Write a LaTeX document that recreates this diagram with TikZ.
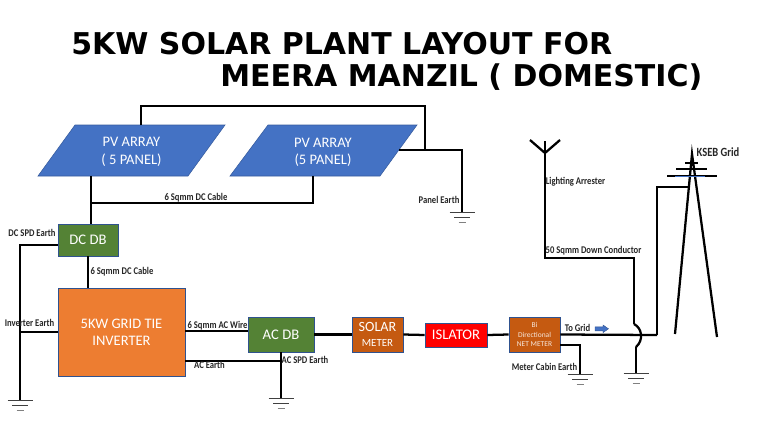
\documentclass[tikz,border=0pt]{standalone}
\usepackage{fontspec}
\setmainfont{Carlito}
\newfontfamily\titlefont{DejaVu Sans}
\newfontfamily\labelfont[FakeStretch=0.84]{Carlito}
\usetikzlibrary{calc}
\definecolor{pvblue}{HTML}{4472C4}
\definecolor{boxedge}{HTML}{2F528F}
\definecolor{dbgreen}{HTML}{548235}
\definecolor{invorange}{HTML}{ED7D31}
\definecolor{meterbrown}{HTML}{C55A11}
\tikzset{
  wire/.style={line width=1.7pt,black},
  thinwire/.style={line width=1.1pt,black},
  unit/.style={draw=boxedge,line width=0.6pt,text=white,align=center,inner sep=0pt},
  wirelabel/.style={font=\labelfont\bfseries\fontsize{7.7}{8}\selectfont,inner sep=0pt,text=black!85},
}
\newcommand{\earthsym}[1]{
  \draw[line width=0.6pt,black!75] ($(#1)+(-12.5,0)$) -- ($(#1)+(12.5,0)$);
  \draw[line width=0.7pt,black!75] ($(#1)+(-8,5)$) -- ($(#1)+(8,5)$);
  \draw[line width=0.7pt,gray] ($(#1)+(-3.5,10)$) -- ($(#1)+(3.5,10)$);
}
\begin{document}
\begin{tikzpicture}[x=0.75pt,y=-0.75pt]
  \useasboundingbox (0,0) rectangle (768,433);
  % title
  \node[anchor=west,inner sep=0pt,font=\titlefont\bfseries\fontsize{22.5}{26}\selectfont] (titleone) at (71,44) {5KW SOLAR PLANT LAYOUT FOR};
  \node[anchor=west,inner sep=0pt,font=\titlefont\bfseries\fontsize{22.5}{26}\selectfont] (titletwo) at (220,77) {MEERA MANZIL ( DOMESTIC)};

  % pv arrays
  \fill[pvblue,draw=pvblue!80!black,line width=0.4pt] (75,125) -- (225,125) -- (188,176) -- (38,176) -- cycle;
  \fill[pvblue,draw=pvblue!80!black,line width=0.4pt] (268,125) -- (417,125) -- (380,176) -- (230,176) -- cycle;
  \node[text=white,align=center,inner sep=0pt,font=\fontsize{10.9}{13}\selectfont] (pvone) at (131.5,152) {PV ARRAY\\( 5 PANEL)};
  \node[text=white,align=center,inner sep=0pt,font=\fontsize{10.9}{13}\selectfont] (pvtwo) at (323,152.5) {PV ARRAY\\(5 PANEL)};

  % boxes
  \node[unit,fill=dbgreen,minimum width=45pt,minimum height=24pt,font=\fontsize{11}{13}\selectfont] (dcdb) at (88,240) {DC DB};
  \node[unit,fill=invorange,minimum width=95.25pt,minimum height=66pt,font=\fontsize{10.9}{13}\selectfont] (inverter) at (121.5,332) {5KW GRID TIE\\INVERTER};
  \node[unit,fill=dbgreen,minimum width=49.5pt,minimum height=26.25pt,font=\fontsize{11}{13}\selectfont] (acdb) at (281,334.5) {AC DB};
  \node[unit,fill=meterbrown,minimum width=38.25pt,minimum height=26.25pt,font=\fontsize{10.6}{11}\selectfont] (solarmeter) at (377.5,334.5) {SOLAR\\{\fontsize{8.2}{10}\selectfont METER}};
  \node[unit,fill=red,minimum width=46.5pt,minimum height=18pt,font=\fontsize{11}{13}\selectfont] (islator) at (456,335) {ISLATOR};
  \node[unit,fill=meterbrown,minimum width=38.25pt,minimum height=26.25pt,text=white!85!meterbrown,font=\fontsize{5.6}{7.4}\selectfont] (netmeter) at (534.5,334.5) {Bi\\Directional\\NET METER};

  % junctions and free ends
  \coordinate (pvonedown) at (91,176);
  \coordinate (pvonetop) at (141,125);
  \coordinate (topright) at (425,106);
  \coordinate (pvtwoearth) at (399,150);
  \coordinate (pvtwodown) at (313,176);
  \coordinate (dcbranch) at (91,203);
  \coordinate (leftearth) at (20,400);
  \coordinate (panelearth) at (462,212);
  \coordinate (acearth) at (281,398);
  \coordinate (meterearth) at (580,374);
  \coordinate (towerearth) at (636,373);
  \coordinate (towertop) at (692,154);
  \coordinate (towerleft) at (675,334);
  \coordinate (towerright) at (717,337);
  \coordinate (gridcorner) at (657,335);
  \coordinate (gridfeed) at (688,187);
  \coordinate (arrestertop) at (545,141);
  \coordinate (arresterfork) at (545,153);
  \coordinate (arresterl) at (530,140);
  \coordinate (arresterr) at (560,140);
  \coordinate (downcorner) at (634,258);
  \coordinate (hopin) at (634,324);
  \coordinate (hopout) at (636,347);

  % dc side
  \draw[thinwire] (pvonetop) |- (topright) -- (topright |- pvtwoearth);
  \draw[wire] (pvonedown) -- (pvonedown |- dcdb.north);
  \draw[wire] (dcbranch) -| (pvtwodown);
  \draw[thinwire] (pvtwoearth) -| (panelearth);
  \draw[wire] (dcdb.south) -- (dcdb.south |- inverter.north);
  \draw[wire] (dcdb.west |- 0,245) -| (leftearth);
  \draw[wire] (inverter.west) -- (inverter.west -| leftearth);

  % ac side
  \draw[wire] (inverter.east |- 0,331) -- (acdb.west |- 0,331);
  \draw[wire] (inverter.east |- 0,361) -- (acearth |- 0,361);
  \draw[wire] (acdb.south) -- (acearth);
  \draw[wire] (acdb.east) -- (solarmeter.west);
  \draw[wire] (solarmeter.east) -- (islator.west);
  \draw[wire] (islator.east) -- (netmeter.west);
  \draw[wire] (netmeter.east) -- (gridcorner);
  \draw[wire] (gridcorner) |- (gridfeed);
  \draw[wire] (netmeter.east |- 0,345) -| (meterearth);

  % lightning arrester
  \draw[thinwire] (arrestertop) -- (arrestertop |- downcorner) -- (downcorner) -- (hopin);
  \draw[wire] (arresterl) -- (arresterfork) -- (arresterr);
  \draw[wire] (hopin) .. controls (642,328) and (644,340) .. (hopout);
  \draw[thinwire] (hopout) -- (towerearth);

  % tower
  \draw[wire] (towerleft) -- (towertop) -- (towerright);
  \draw[wire] (685,163) -- (698,163);
  \draw[line width=0.8pt] (676,169) -- (707,169);
  \draw[wire] (667,176) -- (717,176);
  \draw[line width=0.8pt,pvblue] (675,176.5) -- (705,176.5);

  % earths
  \earthsym{leftearth}
  \earthsym{panelearth}
  \earthsym{acearth}
  \earthsym{meterearth}
  \earthsym{towerearth}

  % labels
  \node[wirelabel] (lblcableone) at (196,198) {6 Sqmm DC Cable};
  \node[wirelabel] (lblcabletwo) at (122,272) {6 Sqmm DC Cable};
  \node[wirelabel] (lbldcspd) at (32,233) {DC SPD Earth};
  \node[wirelabel] (lblinvearth) at (29.5,323) {Inverter Earth};
  \node[wirelabel] (lblacwire) at (217.5,326) {6 Sqmm AC Wire};
  \node[wirelabel] (lblacearth) at (209.5,365) {AC Earth};
  \node[wirelabel] (lblacspd) at (305,360) {AC SPD Earth};
  \node[wirelabel] (lblpanel) at (439,200) {Panel Earth};
  \node[wirelabel] (lblarrester) at (575.5,182) {Lighting Arrester};
  \node[wirelabel] (lbldown) at (593.5,251) {50 Sqmm Down Conductor};
  \node[wirelabel] (lblgrid) at (577.5,328) {To Grid};
  \node[wirelabel] (lblcabin) at (544.5,367) {Meter Cabin Earth};
  \node[wirelabel,font=\labelfont\bfseries\fontsize{9.4}{10}\selectfont] (lblkseb) at (718,152) {KSEB Grid};
  % to grid arrow
  \fill[pvblue,draw=boxedge,line width=0.3pt] (595,326.8) -- (603,326.8) -- (603,325) -- (608.5,328.8) -- (603,332.6) -- (603,330.8) -- (595,330.8) -- cycle;
\end{tikzpicture}
\end{document}
